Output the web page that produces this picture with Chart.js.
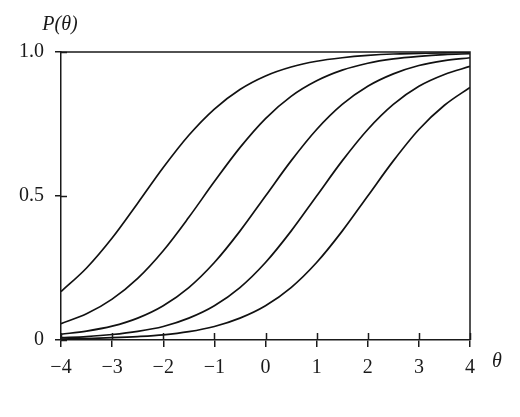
<!DOCTYPE html>
<html>
<head>
<meta charset="utf-8">
<script src="https://cdn.jsdelivr.net/npm/chart.js@4"></script>
<style>
  html, body { margin: 0; padding: 0; background: #fff; }
  #wrap { width: 520px; height: 417px; }
</style>
</head>
<body>
<div id="wrap"><canvas id="c" width="520" height="417"></canvas></div>
<script>
// theta grid (x values)
const theta = [-4, -3.5, -3, -2.5, -2, -1.5, -1, -0.5, 0, 0.5, 1, 1.5, 2, 2.5, 3, 3.5, 4];
// P(theta) for each of the five curves
const curve1 = [0.168, 0.250, 0.354, 0.475, 0.599, 0.711, 0.802, 0.870, 0.917, 0.948, 0.968, 0.980, 0.988, 0.993, 0.995, 0.997, 0.998];
const curve2 = [0.057, 0.091, 0.142, 0.214, 0.310, 0.426, 0.550, 0.668, 0.769, 0.846, 0.900, 0.937, 0.961, 0.976, 0.985, 0.991, 0.994];
const curve3 = [0.020, 0.031, 0.048, 0.076, 0.119, 0.182, 0.269, 0.378, 0.500, 0.622, 0.731, 0.818, 0.881, 0.924, 0.953, 0.970, 0.980];
const curve4 = [0.008, 0.012, 0.019, 0.030, 0.047, 0.076, 0.119, 0.182, 0.269, 0.378, 0.500, 0.622, 0.731, 0.818, 0.881, 0.922, 0.950];
const curve5 = [0.003, 0.005, 0.008, 0.012, 0.018, 0.029, 0.047, 0.076, 0.119, 0.182, 0.269, 0.378, 0.500, 0.622, 0.731, 0.815, 0.877];
// tick values and labels
const xTicks = [-4, -3, -2, -1, 0, 1, 2, 3, 4];
const xTickLabels = ['\u22124', '\u22123', '\u22122', '\u22121', '0', '1', '2', '3', '4'];
const yTicks = [0, 0.5, 1];
const yTickLabels = ['0', '0.5', '1.0'];
const yAxisLabel = 'P(\u03B8)';
const xAxisLabel = '\u03B8';

const series = [curve1, curve2, curve3, curve4, curve5];
const FONT = '"Liberation Serif", "DejaVu Serif", serif';
const INK = '#1a1a1a';

const datasets = series.map(vals => ({
  data: theta.map((t, i) => ({ x: t, y: vals[i] })),
  borderColor: '#111',
  borderWidth: 1.7,
  pointRadius: 0,
  fill: false,
  cubicInterpolationMode: 'monotone'
}));

const decor = {
  id: 'decor',
  afterDraw(chart) {
    const ctx = chart.ctx;
    const { left, right, top, bottom } = chart.chartArea;
    const xs = chart.scales.x, ys = chart.scales.y;
    ctx.save();
    ctx.strokeStyle = INK;
    ctx.lineWidth = 1.5;
    // inner halves of tick marks
    ctx.beginPath();
    xTicks.forEach(v => {
      const px = Math.round(xs.getPixelForValue(v)) + 0.5;
      ctx.moveTo(px, bottom);
      ctx.lineTo(px, bottom - 7);
    });
    yTicks.forEach(v => {
      const py = Math.round(ys.getPixelForValue(v)) + 0.5;
      ctx.moveTo(left, py);
      ctx.lineTo(left + 6, py);
    });
    ctx.stroke();
    // top and right frame lines
    ctx.beginPath();
    ctx.moveTo(left, top);
    ctx.lineTo(right, top);
    ctx.lineTo(right, bottom);
    ctx.stroke();
    // axis names
    ctx.fillStyle = INK;
    ctx.font = 'italic 20px ' + FONT;
    ctx.textAlign = 'center';
    ctx.textBaseline = 'middle';
    ctx.fillText(yAxisLabel, 60, 25);
    ctx.fillText(xAxisLabel, 497, 362);
    ctx.restore();
  }
};

new Chart(document.getElementById('c'), {
  type: 'line',
  data: { datasets },
  options: {
    responsive: false,
    animation: false,
    events: [],
    layout: { padding: { top: 52, right: 50, left: 0, bottom: 0 } },
    plugins: { legend: { display: false }, tooltip: { enabled: false } },
    scales: {
      x: {
        type: 'linear',
        min: -4, max: 4,
        afterBuildTicks: s => { s.ticks = xTicks.map(v => ({ value: v })); },
        afterFit: s => { s.height = 77; },
        ticks: {
          autoSkip: false,
          maxRotation: 0,
          padding: 9,
          color: INK,
          font: { family: FONT, size: 20 },
          callback: (v) => { const i = xTicks.indexOf(v); return i >= 0 ? xTickLabels[i] : ''; }
        },
        grid: { drawOnChartArea: false, drawTicks: true, tickLength: 7, color: INK, lineWidth: 1.5 },
        border: { display: true, color: INK, width: 1.5 }
      },
      y: {
        type: 'linear',
        min: 0, max: 1,
        afterBuildTicks: s => { s.ticks = yTicks.map(v => ({ value: v })); },
        afterFit: s => { s.width = 61; },
        ticks: {
          autoSkip: false,
          padding: 11,
          color: INK,
          font: { family: FONT, size: 20 },
          callback: (v) => { const i = yTicks.indexOf(v); return i >= 0 ? yTickLabels[i] : ''; }
        },
        grid: { drawOnChartArea: false, drawTicks: true, tickLength: 6, color: INK, lineWidth: 1.5 },
        border: { display: true, color: INK, width: 1.5 }
      }
    }
  },
  plugins: [decor]
});
</script>
</body>
</html>
